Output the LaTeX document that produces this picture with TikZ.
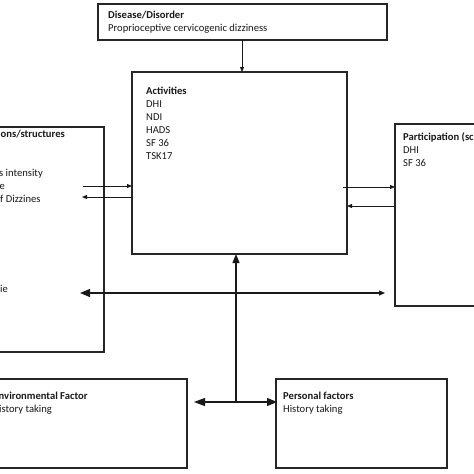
\documentclass[tikz,border=0pt]{standalone}
\usepackage{fontspec}
\setmainfont{Carlito}
\usetikzlibrary{arrows.meta}
\begin{document}
\begin{tikzpicture}[x=1pt,y=-1pt,
  box/.style={draw=black!85, line width=1.2pt},
  txt/.style={anchor=base west, inner sep=0pt, font=\fontsize{10.6}{13}\selectfont, text=black!90},
  ttl/.style={txt, font=\fontsize{10.6}{13}\selectfont\bfseries},
  conn/.style={draw=black!90, line width=1pt},
  small/.style={-{Triangle[length=5pt,width=4pt]}},
  big/.style={{Triangle[length=10pt,width=8pt]}-{Triangle[length=6pt,width=5pt]}},
  bigboth/.style={{Triangle[length=11pt,width=8pt]}-{Triangle[length=10pt,width=8pt]}},
  bigup/.style={-{Triangle[length=9pt,width=7pt]}}]
\useasboundingbox (0,0) rectangle (474,474);
\clip (0,0) rectangle (474,474);
\fill[white] (0,0) rectangle (474,474);
% boxes
\draw[box] (98,4) rectangle (387,40);
\draw[box] (132,72) rectangle (347,254);
\draw[box] (-10,127) rectangle (104,352);
\draw[box] (395,124) rectangle (490,306);
\draw[box] (-10,379) rectangle (187,468);
\draw[box] (276,379) rectangle (447,468);
% texts
\node[ttl] (dis1) at (108,18) {Disease/Disorder};
\node[txt] (dis2) at (108,31) {Proprioceptive cervicogenic dizziness};
\node[ttl] (act1) at (146,94) {Activities};
\node[txt] (act2) at (146,107) {DHI};
\node[txt] (act3) at (146,120) {NDI};
\node[txt] (act4) at (146,133) {HADS};
\node[txt] (act5) at (146,146) {SF 36};
\node[txt] (act6) at (146,159) {TSK17};
\node[ttl] (bod1) at (0.5,137) {ons/structures};
\node[txt] (bod2) at (-1,176) {s intensity};
\node[txt] (bod3) at (-0.5,189) {e};
\node[txt] (bod4) at (0,202) {f Dizzines};
\node[txt] (bod5) at (0,292) {ie};
\node[ttl] (par1) at (403,140) {Participation (sc};
\node[txt] (par2) at (403,153) {DHI};
\node[txt] (par3) at (403,166) {SF 36};
\node[ttl] (env1) at (-1.5,399) {nvironmental Factor};
\node[txt] (env2) at (-1,412) {istory taking};
\node[ttl] (per1) at (283,399) {Personal factors};
\node[txt] (per2) at (283,412) {History taking};
% connector points
\coordinate (d0) at (242,40);
\coordinate (d1) at (242,72);
\coordinate (l0) at (83,186);
\coordinate (l1) at (132,186);
\coordinate (l2) at (132,197);
\coordinate (l3) at (82,197);
\coordinate (r0) at (343,187);
\coordinate (r1) at (395,187);
\coordinate (r2) at (395,206);
\coordinate (r3) at (347,206);
\coordinate (h0) at (80,293);
\coordinate (h1) at (385,293);
\coordinate (v0) at (236,402);
\coordinate (v1) at (236,254);
\coordinate (b0) at (194,402);
\coordinate (b1) at (277,402);
% connectors
\draw[conn,small] (d0) -- (d1);
\draw[conn,small] (l0) -- (l1);
\draw[conn,small] (l2) -- (l3);
\draw[conn,small] (r0) -- (r1);
\draw[conn,small] (r2) -- (r3);
\draw[conn,big,line width=1.2pt] (h0) -- (h1);
\draw[conn,bigup,line width=1.2pt] (v0) -- (v1);
\draw[conn,bigboth,line width=1.2pt] (b0) -- (b1);
\end{tikzpicture}
\end{document}
